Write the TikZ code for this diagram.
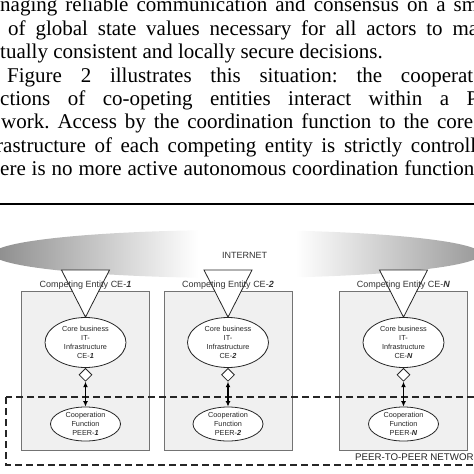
\documentclass[tikz,border=0pt]{standalone}
\usepackage{fontspec}
\setmainfont{Liberation Sans}
\newfontfamily\paperfont{Liberation Serif}
\usetikzlibrary{shapes.geometric,arrows.meta}
\colorlet{framegray}{black!55}
\colorlet{boxfill}{black!6}
\colorlet{inkcolor}{black!85}
\newcommand{\idx}[1]{\textbf{\textit{#1}}}
\frenchspacing
\pgfdeclarehorizontalshading{netshade}{100bp}{color(0bp)=(black!45); color(25bp)=(black!45); color(46bp)=(white); color(56bp)=(white); color(75bp)=(black!40); color(100bp)=(black!40)}

\tikzset{
  paperline/.style={anchor=base west, inner sep=0pt, font=\paperfont\fontsize{21}{23}\selectfont},
  entitybox/.style={draw=framegray, fill=boxfill, line width=0.8pt, minimum width=128pt, minimum height=159pt, inner sep=0pt},
  corenode/.style={ellipse, draw=inkcolor, fill=white, line width=0.8pt, minimum width=81pt, minimum height=50pt, inner sep=0pt, align=center, text=black!85, font=\fontsize{7.3}{8.8}\selectfont},
  peernode/.style={corenode, minimum width=70pt, minimum height=34pt},
  gatenode/.style={diamond, draw=inkcolor, fill=white, line width=0.8pt, minimum size=13pt, inner sep=0pt},
  entitylabel/.style={anchor=base, inner sep=0pt, text=black!80, font=\fontsize{9}{11}\selectfont},
  gatearrow/.style={black, line width=1.5pt, {Latex[length=5.5pt,width=5pt]}-{Latex[length=5.5pt,width=5pt]}},
}

\begin{document}
\begin{tikzpicture}[x=1pt, y=-1pt]
  \useasboundingbox (0,0) rectangle (474,474);
  \clip (0,0) rectangle (474,474);

  % text of the page above the figure
  \node (l1) [paperline] at (0,11) {\makebox[478pt][s]{naging reliable communication and consensus on a sm}};
  \node (l2) [paperline] at (8,35) {\makebox[470pt][s]{of global state values necessary for all actors to ma}};
  \node (l3) [paperline] at (0,58) {tually consistent and locally secure decisions.};
  \node (l4) [paperline] at (7,82) {\makebox[466pt][s]{Figure 2 illustrates this situation: the cooperat}};
  \node (l5) [paperline] at (0,105) {\makebox[478pt][s]{ctions of co-opeting entities interact within a P}};
  \node (l6) [paperline] at (1,128) {\makebox[472pt][s]{work. Access by the coordination function to the core}};
  \node (l7) [paperline] at (-4,152) {\makebox[480pt][s]{rastructure of each competing entity is strictly controll}};
  \node (l8) [paperline] at (0,175) {\makebox[474pt][s]{ere is no more active autonomous coordination function}};
  \draw[line width=2.2pt] (0,204) -- (474,204);

  % internet
  \shade[shading=netshade] (237,254) ellipse [x radius=244pt, y radius=24pt];
  \node (net) [entitylabel] at (244.5,258.5) {INTERNET};

  \foreach \cx/\n/\k in {85.5/1/1, 228/2/2, 403.5/3/N} {
    \node (box\n) [entitybox] at (\cx,370.5) {};
    \node (core\n) [corenode] at (\cx,342.5) {Core business\\IT-\\Infrastructure\\CE-\idx{\k}};
    \node (gate\n) [gatenode, anchor=north] at (core\n.south) {};
    \node (peer\n) [peernode] at (\cx,424) {Cooperation\\Function\\PEER-\idx{\k}};
    \draw[inkcolor, line width=0.8pt, fill=white] (\cx-24,270) -- (\cx+24,270) -- (core\n.north) -- cycle;
    \node (lab\n) [entitylabel] at (\cx,287) {Competing Entity CE-\idx{\k}};
  }

  % peer-to-peer network
  \draw[inkcolor, line width=1.6pt, dash pattern=on 7pt off 4pt] (6,397) rectangle (480,465);
  \node (p2p) [anchor=base west, inner sep=0pt, text=black!85, font=\fontsize{9.7}{12}\selectfont] at (355,460) {PEER-TO-PEER NETWOR};

  \foreach \n in {1,2,3}
    \draw[gatearrow] (gate\n.south) -- (peer\n.north);
\end{tikzpicture}
\end{document}
